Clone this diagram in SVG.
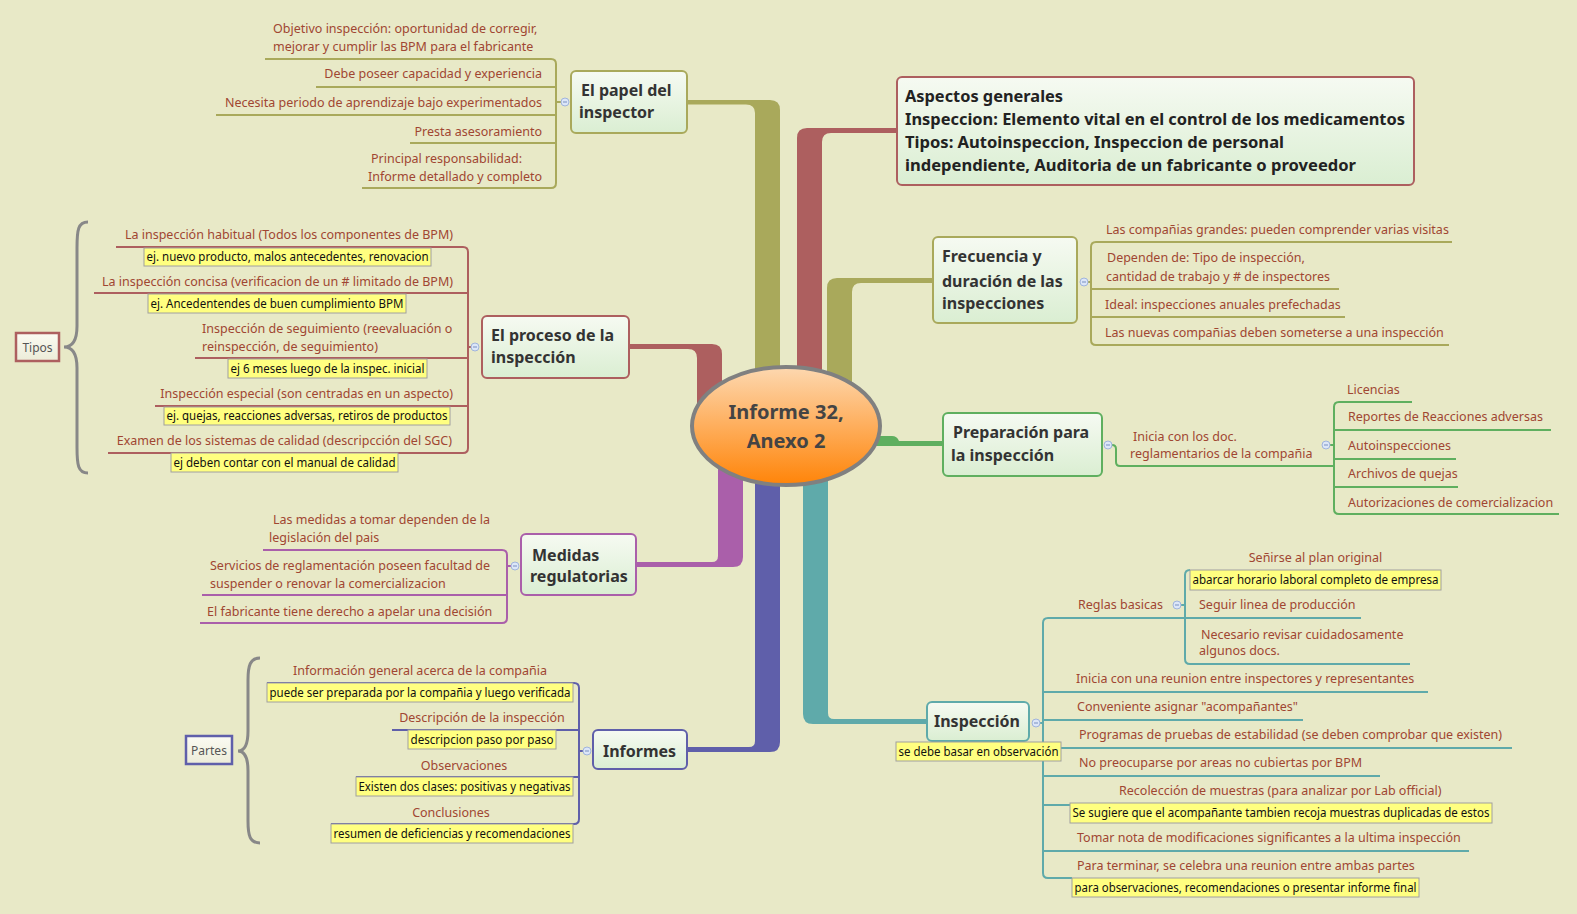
<svg xmlns="http://www.w3.org/2000/svg" width="1577" height="914" viewBox="0 0 1577 914">
<defs>
<linearGradient id="ng" x1="0" y1="0" x2="0" y2="1"><stop offset="0" stop-color="#F6FAF2"/><stop offset="1" stop-color="#DAEED2"/></linearGradient>
<linearGradient id="cg" x1="0" y1="0" x2="0" y2="1"><stop offset="0" stop-color="#FDD8B0"/><stop offset="1" stop-color="#FF8408"/></linearGradient>
<linearGradient id="lg" x1="0" y1="0" x2="0" y2="1"><stop offset="0" stop-color="#FBFBF3"/><stop offset="1" stop-color="#ECECD8"/></linearGradient>
<g id="minus"><circle r="4" fill="#DCE6F8" stroke="#A0B4DC" stroke-width="1"/><path d="M-2,0 H2" stroke="#7890C0" stroke-width="1"/></g>
<style>
text{font-family:"Noto Sans","Open Sans",sans-serif}
.t{font-size:12.5px;fill:#A04632}
.c{font-size:12px;fill:#111}
.b{font-size:16px;font-weight:bold;fill:#333}
.e{text-anchor:end}
.m{text-anchor:middle}
.box{stroke-width:2;fill:url(#ng)}
.co{fill:#FFFF80;stroke:#A0A0A0;stroke-width:1}
.ln{fill:none;stroke-width:2}
.ol{stroke:#A9A95B}.rd{stroke:#AD5F5F}.gr{stroke:#5FAF5F}.pu{stroke:#AA5FAA}.ind{stroke:#5F5FAA}.tl{stroke:#5FAAAA}
.brace{fill:none;stroke:#888;stroke-width:3}
</style>
</defs>
<rect width="1577" height="914" fill="#E8E9C7"/>

<g id="connectors">
<path fill="#A9A95B" d="M687,100 L770,100 Q780,100 780,110 L780,400 L755,400 L755,113 Q755,104.5 746,104.5 L687,104.5 Z"/>
<path fill="#AD5F5F" d="M897,128 L807,128 Q797,128 797,138 L797,400 L822,400 L822,142 Q822,133 831,133 L897,133 Z"/>
<path fill="#A9A95B" d="M933,278 L837,278 Q827,278 827,288 L827,400 L852,400 L852,292 Q852,283 861,283 L933,283 Z"/>
<path fill="#AD5F5F" d="M629,344 L712,344 Q722,344 722,354 L722,410 L697,410 L697,358 Q697,349 688,349 L629,349 Z"/>
<path fill="#5FAF5F" d="M860,436 L892,436 Q897,436 899,441 L943,441 L943,446 L860,446 Z"/>
<path fill="#AA5FAA" d="M636,562 L712,562 Q718,562 718,556 L718,450 L743,450 L743,557 Q743,567 733,567 L636,567 Z"/>
<path fill="#5F5FAA" d="M687,747 L749,747 Q755,747 755,741 L755,460 L780,460 L780,742 Q780,752 770,752 L687,752 Z"/>
<path fill="#5FAAAA" d="M927,719 L834,719 Q828,719 828,713 L828,460 L803,460 L803,714 Q803,724 813,724 L927,724 Z"/>

<g class="ln ol">
<path d="M265,59 L551,59 Q556,59 556,64 L556,183 Q556,188 551,188 L362,188"/>
<path d="M316,87 L556,87 M216,115 L556,115 M410,143 L556,143 M556,102 L561,102"/>
</g>
<g class="ln rd">
<path d="M116,247 L463,247 Q468,247 468,252 L468,448 Q468,453 463,453 L108,453"/>
<path d="M94,293 L468,293 M195,358 L468,358 M155,406 L468,406 M468,347 L471,347"/>
</g>
<g class="ln pu">
<path d="M263,550 L502,550 Q507,550 507,555 L507,618 Q507,623 502,623 L200,623"/>
<path d="M202,595 L507,595 M507,566 L511,566"/>
</g>
<g class="ln ind">
<path d="M267,683 L574,683 Q579,683 579,688 L579,819 Q579,824 574,824 L331,824"/>
<path d="M392,730 L579,730 M356,777 L579,777 M579,751 L583,751"/>
</g>
<g class="ln ol">
<path d="M1452,242 L1096,242 Q1091,242 1091,247 L1091,340 Q1091,345 1096,345 L1449,345"/>
<path d="M1091,289 L1339,289 M1091,317 L1345,317 M1088,282 L1091,282"/>
</g>
<g class="ln gr">
<path d="M1112,445 Q1116,445 1116,449 L1116,462 Q1116,466 1120,466 L1334,466"/>
<path d="M1412,402 L1339,402 Q1334,402 1334,407 L1334,509 Q1334,514 1339,514 L1559,514"/>
<path d="M1334,430 L1551,430 M1334,459 L1456,459 M1334,487 L1458,487 M1330,445 L1334,445"/>
</g>
<g class="ln tl">
<path d="M1361,618 L1048,618 Q1043,618 1043,623 L1043,873 Q1043,878 1048,878 L1072,878"/>
<path d="M1043,692 L1428,692 M1043,720 L1303,720 M1043,748 L1512,748 M1043,776 L1380,776 M1043,805 L1070,805 M1043,851 L1469,851 M1040,723 L1043,723"/>
<path d="M1190,570 Q1185,570 1185,575 L1185,659 Q1185,664 1190,664 L1410,664 M1181,605 L1185,605"/>
</g>
</g>

<g id="central">
<ellipse cx="786" cy="426" rx="94" ry="59" fill="url(#cg)" stroke="#808080" stroke-width="4"/>
<text x="786" y="419" class="m" style="font-size:20px;font-weight:bold;fill:#444">Informe 32,</text>
<text x="786" y="448" class="m" style="font-size:20px;font-weight:bold;fill:#444">Anexo 2</text>
</g>

<g id="n-papel">
<rect x="571" y="71" width="116" height="62" rx="5" class="box ol"/>
<text x="581" y="96" class="b">El papel del</text>
<text x="579" y="118" class="b">inspector</text>
<use href="#minus" x="565" y="102"/>
<text x="273" y="32.5" class="t">Objetivo inspección: oportunidad de corregir,</text>
<text x="273" y="50.5" class="t">mejorar y cumplir las BPM para el fabricante</text>
<text x="542" y="77.5" class="t e">Debe poseer capacidad y experiencia</text>
<text x="542" y="106.5" class="t e">Necesita periodo de aprendizaje bajo experimentados</text>
<text x="542" y="135.5" class="t e">Presta asesoramiento</text>
<text x="371" y="162.5" class="t">Principal responsabilidad:</text>
<text x="368" y="180.5" class="t">Informe detallado y completo</text>
</g>

<g id="n-aspectos">
<rect x="897" y="77" width="517" height="108" rx="5" class="box rd"/>
<text x="905" y="101.5" class="b" style="font-size:16.5px;fill:#222" textLength="158" lengthAdjust="spacingAndGlyphs">Aspectos generales</text>
<text x="905" y="124.7" class="b" style="font-size:16.5px;fill:#222" textLength="500" lengthAdjust="spacingAndGlyphs">Inspeccion: Elemento vital en el control de los medicamentos</text>
<text x="905" y="147.8" class="b" style="font-size:16.5px;fill:#222" textLength="379" lengthAdjust="spacingAndGlyphs">Tipos: Autoinspeccion, Inspeccion de personal</text>
<text x="905" y="171" class="b" style="font-size:16.5px;fill:#222" textLength="451" lengthAdjust="spacingAndGlyphs">independiente, Auditoria de un fabricante o proveedor</text>
</g>

<g id="n-frecuencia">
<rect x="933" y="237" width="144" height="86" rx="5" class="box ol"/>
<text x="942" y="262" class="b">Frecuencia y</text>
<text x="942" y="287" class="b">duración de las</text>
<text x="942" y="309" class="b">inspecciones</text>
<use href="#minus" x="1084" y="282"/>
<text x="1106" y="233.5" class="t">Las compañias grandes: pueden comprender varias visitas</text>
<text x="1107" y="261.5" class="t">Dependen de: Tipo de inspección,</text>
<text x="1106" y="280.5" class="t">cantidad de trabajo y # de inspectores</text>
<text x="1105" y="308.5" class="t">Ideal: inspecciones anuales prefechadas</text>
<text x="1105" y="336.5" class="t">Las nuevas compañias deben someterse a una inspección</text>
</g>

<g id="n-proceso">
<rect x="482" y="316" width="147" height="62" rx="5" class="box rd"/>
<text x="491" y="341" class="b">El proceso de la</text>
<text x="491" y="363" class="b">inspección</text>
<use href="#minus" x="475" y="347"/>
<text x="453" y="238.5" class="t e">La inspección habitual (Todos los componentes de BPM)</text>
<rect x="144" y="248" width="287" height="18" class="co"/>
<text x="146.5" y="261.3" class="c" textLength="282" lengthAdjust="spacingAndGlyphs">ej. nuevo producto, malos antecedentes, renovacion</text>
<text x="453" y="285.5" class="t e">La inspección concisa (verificacion de un # limitado de BPM)</text>
<rect x="148" y="294" width="258" height="19" class="co"/>
<text x="150.5" y="307.8" class="c" textLength="253" lengthAdjust="spacingAndGlyphs">ej. Ancedentendes de buen cumplimiento BPM</text>
<text x="202" y="332.5" class="t">Inspección de seguimiento (reevaluación o</text>
<text x="202" y="350.5" class="t">reinspección, de seguimiento)</text>
<rect x="228" y="359" width="199" height="19" class="co"/>
<text x="230.5" y="372.8" class="c" textLength="194" lengthAdjust="spacingAndGlyphs">ej 6 meses luego de la inspec. inicial</text>
<text x="453" y="397.5" class="t e">Inspección especial (son centradas en un aspecto)</text>
<rect x="164" y="407" width="286" height="18" class="co"/>
<text x="166.5" y="420.3" class="c" textLength="281" lengthAdjust="spacingAndGlyphs">ej. quejas, reacciones adversas, retiros de productos</text>
<text x="452" y="444.5" class="t e">Examen de los sistemas de calidad (descripcción del SGC)</text>
<rect x="171" y="453" width="227" height="19" class="co"/>
<text x="173.5" y="466.8" class="c" textLength="222" lengthAdjust="spacingAndGlyphs">ej deben contar con el manual de calidad</text>
</g>

<g id="n-tipos">
<path class="brace" d="M88,222 C78,222 77,230 77,248 L77,326 C77,341 72,347 64,347 C72,347 77,353 77,368 L77,447 C77,465 78,473 88,473"/>
<rect x="16" y="333" width="43" height="28" fill="url(#lg)" stroke="#AD5F5F" stroke-width="2.5"/>
<text x="37.5" y="351.5" class="m" style="font-size:12px;fill:#555">Tipos</text>
</g>

<g id="n-preparacion">
<rect x="943" y="413" width="159" height="63" rx="5" class="box gr"/>
<text x="953" y="438" class="b">Preparación para</text>
<text x="951" y="461" class="b">la inspección</text>
<use href="#minus" x="1108" y="445"/>
<text x="1133" y="440.5" class="t">Inicia con los doc.</text>
<text x="1130" y="457.5" class="t">reglamentarios de la compañia</text>
<use href="#minus" x="1326" y="445"/>
<text x="1347" y="393.5" class="t">Licencias</text>
<text x="1348" y="420.5" class="t">Reportes de Reacciones adversas</text>
<text x="1348" y="449.5" class="t">Autoinspecciones</text>
<text x="1348" y="477.5" class="t">Archivos de quejas</text>
<text x="1348" y="506.5" class="t">Autorizaciones de comercializacion</text>
</g>

<g id="n-medidas">
<rect x="521" y="534" width="115" height="61" rx="5" class="box pu"/>
<text x="532" y="561" class="b">Medidas</text>
<text x="530" y="582" class="b">regulatorias</text>
<use href="#minus" x="515" y="566"/>
<text x="273" y="523.5" class="t">Las medidas a tomar dependen de la</text>
<text x="269" y="541.5" class="t">legislación del pais</text>
<text x="210" y="569.5" class="t">Servicios de reglamentación poseen facultad de</text>
<text x="210" y="587.5" class="t">suspender o renovar la comercializacion</text>
<text x="207" y="615.5" class="t">El fabricante tiene derecho a apelar una decisión</text>
</g>

<g id="n-informes">
<rect x="593" y="730" width="94" height="39" rx="5" class="box ind"/>
<text x="603" y="757" class="b">Informes</text>
<use href="#minus" x="587" y="751"/>
<text x="420" y="674.5" class="t m">Información general acerca de la compañia</text>
<rect x="267" y="683" width="306" height="19" class="co"/>
<text x="269.5" y="696.8" class="c" textLength="301" lengthAdjust="spacingAndGlyphs">puede ser preparada por la compañia y luego verificada</text>
<text x="482" y="721.5" class="t m">Descripción de la inspección</text>
<rect x="408" y="730" width="148" height="19" class="co"/>
<text x="410.5" y="743.8" class="c" textLength="143" lengthAdjust="spacingAndGlyphs">descripcion paso por paso</text>
<text x="464" y="769.5" class="t m">Observaciones</text>
<rect x="356" y="777" width="217" height="19" class="co"/>
<text x="358.5" y="790.8" class="c" textLength="212" lengthAdjust="spacingAndGlyphs">Existen dos clases: positivas y negativas</text>
<text x="451" y="816.5" class="t m">Conclusiones</text>
<rect x="331" y="824" width="242" height="19" class="co"/>
<text x="333.5" y="837.8" class="c" textLength="237" lengthAdjust="spacingAndGlyphs">resumen de deficiencias y recomendaciones</text>
</g>

<g id="n-partes">
<path class="brace" d="M260,658 C250,658 248,666 248,680 L248,731 C248,745 245,751 238,751 C245,751 248,757 248,771 L248,821 C248,836 250,843 260,843"/>
<rect x="186" y="736" width="46" height="28" fill="url(#lg)" stroke="#5F5FAA" stroke-width="2.5"/>
<text x="209" y="754.5" class="m" style="font-size:12px;fill:#555">Partes</text>
</g>

<g id="n-inspeccion">
<rect x="927" y="702" width="102" height="39" rx="5" class="box tl"/>
<text x="934" y="727" class="b">Inspección</text>
<rect x="896" y="742" width="165" height="19" class="co"/>
<text x="898.5" y="755.8" class="c" textLength="160" lengthAdjust="spacingAndGlyphs">se debe basar en observación</text>
<use href="#minus" x="1036" y="723"/>
<text x="1078" y="608.5" class="t">Reglas basicas</text>
<use href="#minus" x="1177" y="605"/>
<text x="1315.5" y="561.5" class="t m">Señirse al plan original</text>
<rect x="1190" y="570" width="251" height="20" class="co"/>
<text x="1192.5" y="584.3" class="c" textLength="246" lengthAdjust="spacingAndGlyphs">abarcar horario laboral completo de empresa</text>
<text x="1199" y="608.5" class="t">Seguir linea de producción</text>
<text x="1201" y="638.5" class="t">Necesario revisar cuidadosamente</text>
<text x="1199" y="654.5" class="t">algunos docs.</text>
<text x="1076" y="682.5" class="t">Inicia con una reunion entre inspectores y representantes</text>
<text x="1077" y="710.5" class="t">Conveniente asignar "acompañantes"</text>
<text x="1079" y="738.5" class="t">Programas de pruebas de estabilidad (se deben comprobar que existen)</text>
<text x="1079" y="766.5" class="t">No preocuparse por areas no cubiertas por BPM</text>
<text x="1119" y="794.5" class="t">Recolección de muestras (para analizar por Lab official)</text>
<rect x="1070" y="803" width="422" height="20" class="co"/>
<text x="1072.5" y="817.3" class="c" textLength="417" lengthAdjust="spacingAndGlyphs">Se sugiere que el acompañante tambien recoja muestras duplicadas de estos</text>
<text x="1077" y="841.5" class="t">Tomar nota de modificaciones significantes a la ultima inspección</text>
<text x="1077" y="869.5" class="t">Para terminar, se celebra una reunion entre ambas partes</text>
<rect x="1072" y="878" width="347" height="19" class="co"/>
<text x="1074.5" y="891.8" class="c" textLength="342" lengthAdjust="spacingAndGlyphs">para observaciones, recomendaciones o presentar informe final</text>
</g>
</svg>
